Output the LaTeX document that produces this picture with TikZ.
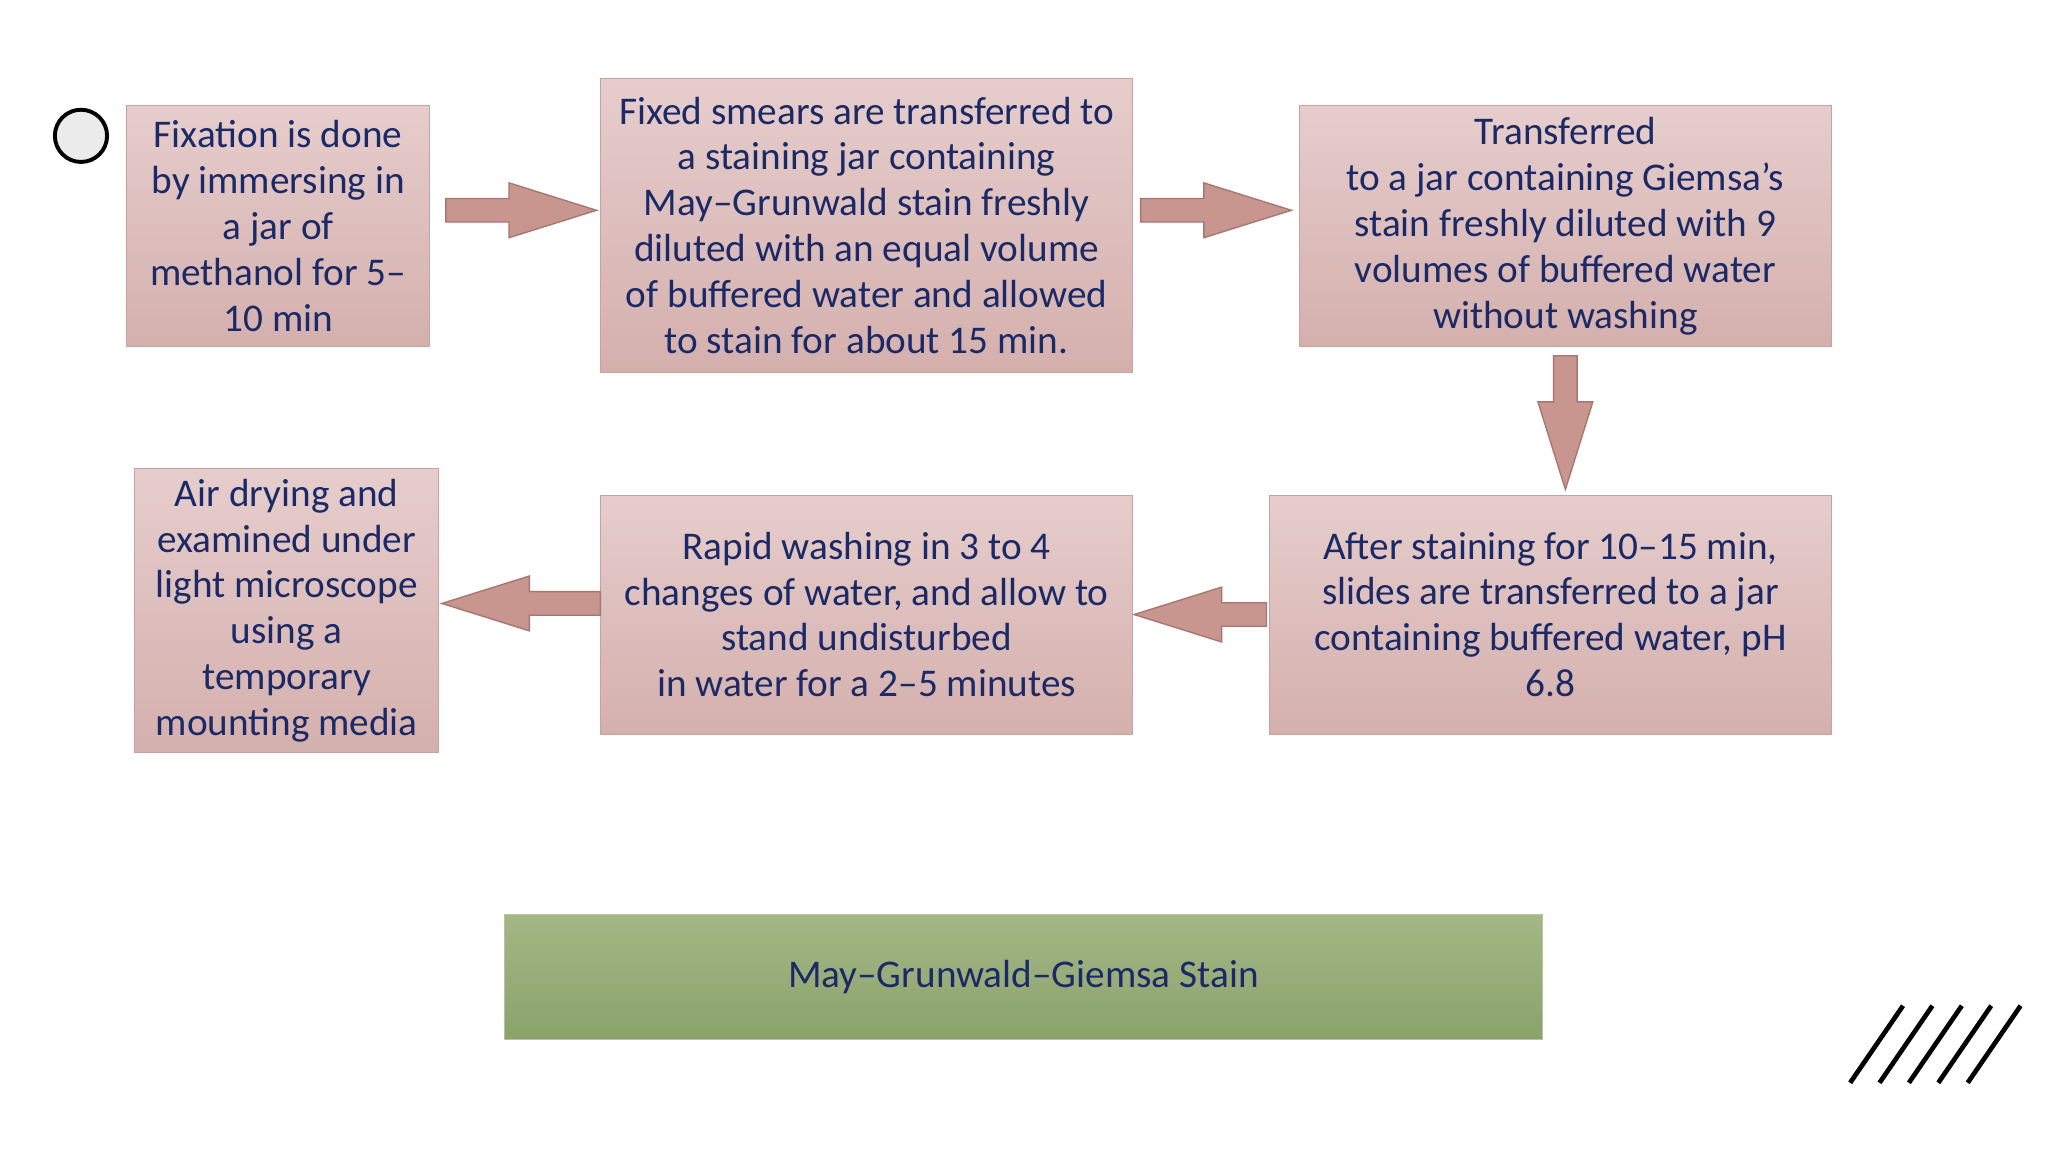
\documentclass[tikz,border=0pt]{standalone}
\usepackage{fontspec}
\setmainfont{Carlito}
\usepackage{xcolor}
\usetikzlibrary{calc}
\definecolor{boxtop}{HTML}{E6CDCC}
\definecolor{boxbot}{HTML}{D4B0AD}
\definecolor{boxline}{HTML}{C9A29F}
\definecolor{arrowfill}{HTML}{C9968F}
\definecolor{arrowline}{HTML}{A7766F}
\definecolor{greentop}{HTML}{A4B787}
\definecolor{greenbot}{HTML}{8BA26A}
\definecolor{greenline}{HTML}{B7C596}
\definecolor{navy}{HTML}{1B2A66}
\tikzset{
	stepbox/.style={
			draw=boxline, top color=boxtop, bottom color=boxbot,
			text=navy, align=center, inner sep=0pt,
			font=\fontsize{17.1pt}{20pt}\selectfont
		},
	titlebox/.style={
			stepbox, draw=greenline, top color=greentop, bottom color=greenbot
		},
	blockarrow/.style={fill=arrowfill, draw=arrowline, line width=0.6pt, line join=miter}
}
% fat arrow from #1 to its tip #2
\newcommand{\fatarrow}[2]{
	\coordinate (fa-s) at (#1);
	\coordinate (fa-t) at (#2);
	\coordinate (fa-h) at ($(fa-t)!1.34cm!(fa-s)$);
	\draw[blockarrow] ($(fa-s)!0.18cm!90:(fa-t)$) -- ($(fa-h)!0.18cm!90:(fa-t)$)
		-- ($(fa-h)!0.42cm!90:(fa-t)$) -- (fa-t) -- ($(fa-h)!0.42cm!-90:(fa-t)$)
		-- ($(fa-h)!0.18cm!-90:(fa-t)$) -- ($(fa-s)!0.18cm!-90:(fa-t)$) -- cycle;
}

\begin{document}
\begin{tikzpicture}[x=0.02cm,y=-0.02cm]
			\useasboundingbox[fill=white] (0,0) rectangle (1568,882);

			\node[circle, draw=black, line width=1.7pt, fill=black!8, minimum size=0.8cm, inner sep=0pt] (dot) at (62,104) {};

			\node[stepbox, minimum width=4.64cm, minimum height=3.68cm] (fix) at (213,173)
				{Fixation is done\\by immersing in\\a jar of\\methanol for 5–\\10 min};
			\node[stepbox, minimum width=8.14cm, minimum height=4.5cm] (smear) at (663.5,172.5)
				{Fixed smears are transferred to\\a staining jar containing\\May–Grunwald stain freshly\\diluted with an equal volume\\of buffered water and allowed\\to stain for about 15 min.};
			\node[stepbox, minimum width=8.14cm, minimum height=3.68cm] (giemsa) at (1198.5,173)
				{Transferred\\to a jar containing Giemsa’s\\stain freshly diluted with 9\\volumes of buffered water\\without washing};
			\node[stepbox, minimum width=8.6cm, minimum height=3.66cm] (buffer) at (1187,470.5)
				{After staining for 10–15 min,\\slides are transferred to a jar\\containing buffered water, pH\\6.8};
			\node[stepbox, minimum width=8.14cm, minimum height=3.66cm] (wash) at (663.5,470.5)
				{Rapid washing in 3 to 4\\changes of water, and allow to\\stand undisturbed\\in water for a 2–5 minutes};
			\node[stepbox, minimum width=4.66cm, minimum height=4.34cm] (dry) at (219.5,467.5)
				{Air drying and\\examined under\\light microscope\\using a\\temporary\\mounting media};

			\node[titlebox, minimum width=15.9cm, minimum height=1.92cm] (title) at (783.5,748)
				{May–Grunwald–Giemsa Stain};

			\fatarrow{[xshift=0.24cm, yshift=0.24cm]fix.east}{[xshift=-0.06cm, yshift=0.23cm]smear.west}
			\fatarrow{[xshift=0.12cm, yshift=0.23cm]smear.east}{[xshift=-0.12cm, yshift=0.24cm]giemsa.west}
			\fatarrow{[yshift=-0.14cm]giemsa.south}{[xshift=0.23cm, yshift=0.08cm]buffer.north}
			\fatarrow{[xshift=-0.04cm]buffer.west}{[xshift=0.02cm]wash.east}
			\fatarrow{[yshift=0.17cm]wash.west}{[xshift=0.04cm, yshift=0.11cm]dry.east}

			\foreach \i in {0,...,4}
				\draw[line width=0.072cm] (1416.5+22.5*\i,829) -- (1457+22.5*\i,770);
		\end{tikzpicture}
\end{document}
